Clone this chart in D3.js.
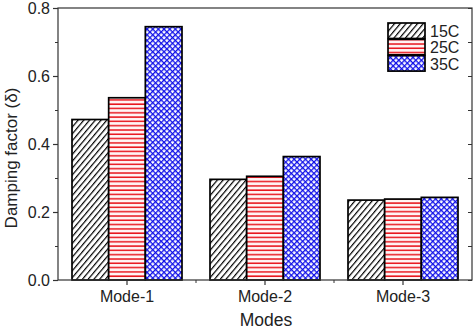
<!DOCTYPE html>
<html><head><meta charset="utf-8">
<script src="https://cdn.jsdelivr.net/npm/d3@7"></script>
<style>body{margin:0;background:#fff}svg{display:block}</style>
</head><body><svg id="c" width="474" height="332"></svg>
<script>
const categories = ["Mode-1", "Mode-2", "Mode-3"];
const seriesNames = ["15C", "25C", "35C"];
const values15 = [0.472, 0.296, 0.235];
const values25 = [0.536, 0.305, 0.238];
const values35 = [0.745, 0.363, 0.243];
const yTicks = [0.0, 0.2, 0.4, 0.6, 0.8];
const yMinorTicks = [0.1, 0.3, 0.5, 0.7];

const series = [values15, values25, values35];
const svg = d3.select("#c");
const L = 58, R = 472, T = 8, B = 280;
const font = "Liberation Sans, Arial, sans-serif";
const tc = "#222";

const defs = svg.append("defs");
// 15C: black diagonal
const p1 = defs.append("pattern").attr("id","p15").attr("patternUnits","userSpaceOnUse")
  .attr("width",4.4).attr("height",6).attr("patternTransform","rotate(40)");
p1.append("rect").attr("width",4.4).attr("height",6).attr("fill","#fff");
p1.append("line").attr("x1",0.6).attr("y1",0).attr("x2",0.6).attr("y2",6).attr("stroke","#000").attr("stroke-width",1.2);
// 25C: red horizontal
const p2 = defs.append("pattern").attr("id","p25").attr("patternUnits","userSpaceOnUse")
  .attr("width",8).attr("height",4.3);
p2.append("rect").attr("width",8).attr("height",4.3).attr("fill","#fff5f5");
p2.append("line").attr("x1",0).attr("y1",1).attr("x2",8).attr("y2",1).attr("stroke","#e8141c").attr("stroke-width",1.5);
// 35C: blue crosshatch
const p3 = defs.append("pattern").attr("id","p35").attr("patternUnits","userSpaceOnUse")
  .attr("width",4).attr("height",4).attr("patternTransform","rotate(45)");
p3.append("rect").attr("width",4).attr("height",4).attr("fill","#fff");
p3.append("line").attr("x1",0.5).attr("y1",0).attr("x2",0.5).attr("y2",4).attr("stroke","#0f0fe8").attr("stroke-width",1.6);
p3.append("line").attr("x1",0).attr("y1",0.5).attr("x2",4).attr("y2",0.5).attr("stroke","#0f0fe8").attr("stroke-width",1.6);
const fills = ["url(#p15)","url(#p25)","url(#p35)"];

const x = d3.scaleBand().domain(categories).range([L, R]).paddingInner(0).paddingOuter(0);
const xs = d3.scaleBand().domain(seriesNames).range([0, 110]);
const y = d3.scaleLinear().domain([0, 0.8]).range([B, T]);

// bars
categories.forEach((c, i) => {
  const gx = x(c) + x.bandwidth()/2 - 55;
  seriesNames.forEach((s, j) => {
    const v = series[j][i];
    svg.append("rect").attr("x", gx + xs(s)).attr("y", y(v))
      .attr("width", xs.bandwidth()).attr("height", y(0) - y(v))
      .attr("fill", fills[j]).attr("stroke", "#000").attr("stroke-width", 1.7);
  });
});

// frame
svg.append("rect").attr("x", L).attr("y", T).attr("width", R - L).attr("height", B - T)
  .attr("fill","none").attr("stroke","#333").attr("stroke-width",1.2);

// y axis
const ya = svg.append("g").attr("transform",`translate(${L},0)`)
  .call(d3.axisLeft(y).tickValues(yTicks).tickFormat(d3.format(".1f")).tickSize(5).tickPadding(3));
ya.select(".domain").remove();
ya.selectAll("line").attr("stroke","#333").attr("stroke-width",1.2);
ya.selectAll("text").attr("font-family",font).attr("font-size",16).attr("fill",tc);
const yam = svg.append("g").attr("transform",`translate(${L},0)`)
  .call(d3.axisLeft(y).tickValues(yMinorTicks).tickFormat("").tickSize(3));
yam.select(".domain").remove();
yam.selectAll("line").attr("stroke","#333");
// right inward ticks
const yr = svg.append("g").attr("transform",`translate(${R},0)`)
  .call(d3.axisRight(y).tickValues(yTicks.concat(yMinorTicks)).tickFormat("").tickSize(-4));
yr.select(".domain").remove();
yr.selectAll("line").attr("stroke","#333");

// x axis
const xa = svg.append("g").attr("transform",`translate(0,${B})`)
  .call(d3.axisBottom(x).tickSize(5).tickPadding(6));
xa.select(".domain").remove();
xa.selectAll("line").attr("stroke","#333").attr("stroke-width",1.2);
xa.selectAll("text").attr("font-family",font).attr("font-size",16).attr("fill",tc);
// minor x ticks at band boundaries
const xm = svg.append("g").attr("transform",`translate(0,${B})`);
categories.slice(1).forEach(c => {
  xm.append("line").attr("x1", x(c)).attr("x2", x(c)).attr("y1", 0).attr("y2", 3).attr("stroke","#333");
});

// axis titles
svg.append("text").attr("x", (L+R)/2 + 1).attr("y", 326).attr("text-anchor","middle")
  .attr("font-family",font).attr("font-size",17.5).attr("fill",tc).text("Modes");
svg.append("text").attr("transform",`translate(17,158) rotate(-90)`).attr("text-anchor","middle")
  .attr("font-family",font).attr("font-size",17).attr("fill",tc).text("Damping factor (δ)");

// legend
const lg = svg.append("g");
seriesNames.forEach((s, j) => {
  const yy = 23 + j * 16.3;
  lg.append("rect").attr("x", 388).attr("y", yy).attr("width", 37).attr("height", 15.5)
    .attr("fill", fills[j]).attr("stroke","#000").attr("stroke-width",1.7);
  lg.append("text").attr("x", 430).attr("y", yy + 14).attr("font-family",font)
    .attr("font-size",16).attr("fill",tc).text(s);
});
</script></body></html>
